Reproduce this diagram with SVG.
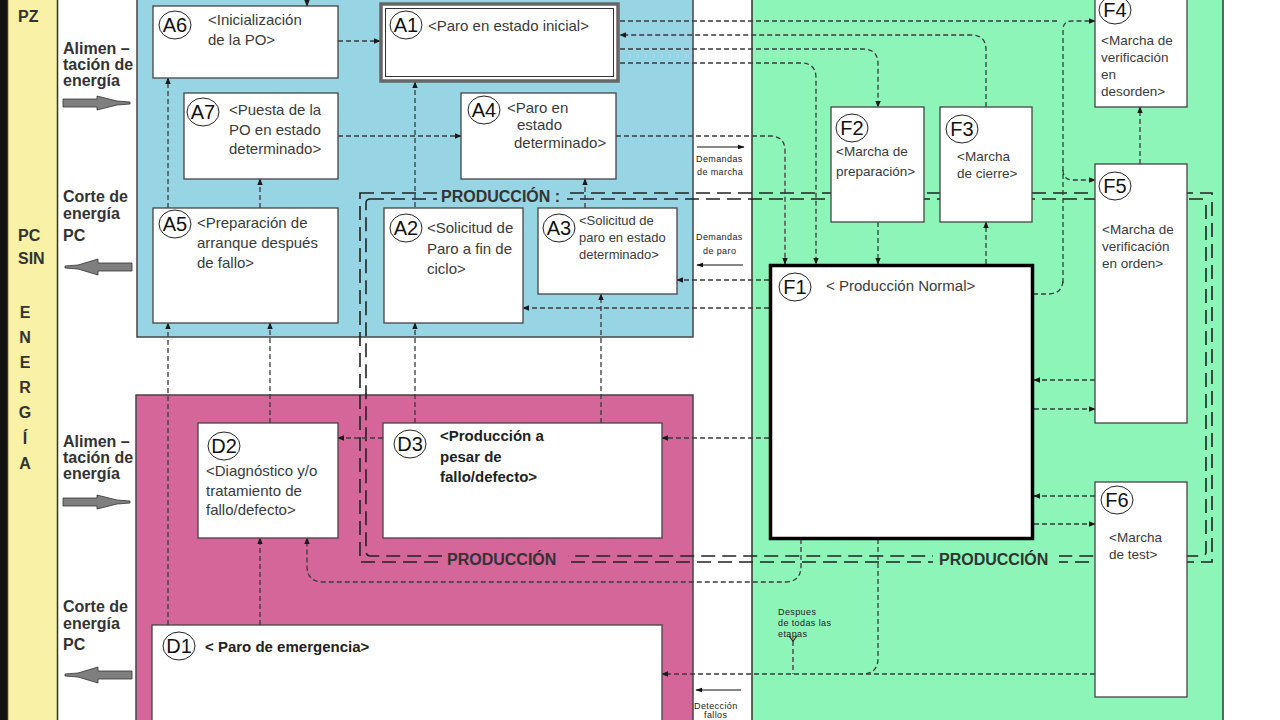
<svg xmlns="http://www.w3.org/2000/svg" width="1280" height="720" viewBox="0 0 1280 720">
<defs>
<marker id="ah" viewBox="0 0 10 10" refX="9" refY="5" markerWidth="7" markerHeight="7" markerUnits="userSpaceOnUse" orient="auto"><path d="M0,1 L10,5 L0,9 z" fill="#1a1a1a"/></marker>
<marker id="ahs" viewBox="0 0 10 10" refX="9" refY="5" markerWidth="7" markerHeight="7" markerUnits="userSpaceOnUse" orient="auto"><path d="M0,1.5 L10,5 L0,8.5 z" fill="#111"/></marker>
</defs>
<style>
.t{font-family:"Liberation Sans",Arial,sans-serif;font-size:15px;fill:#3a3a3a}
.s13{font-size:13px}
.s135{font-size:13.5px}
.b{font-weight:bold;fill:#222}
.side{font-family:"Liberation Sans",Arial,sans-serif;font-size:16px;font-weight:bold;fill:#333}
.tiny{font-family:"Liberation Sans",Arial,sans-serif;font-size:9px;fill:#222;letter-spacing:0.4px}
.prod{font-family:"Liberation Sans",Arial,sans-serif;font-size:16px;font-weight:bold;fill:#333}
.box{fill:#fff;stroke:#444;stroke-width:1.3}
.id ellipse{fill:none;stroke:#222;stroke-width:1}
.id text{font-family:"Liberation Sans",Arial,sans-serif;font-size:20px;fill:#111;text-anchor:middle}
.c{fill:none;stroke:#3a3a3a;stroke-width:1.3;stroke-dasharray:5 3;marker-end:url(#ah)}
.cn{fill:none;stroke:#3a3a3a;stroke-width:1.3;stroke-dasharray:5 3}
.pl{fill:none;stroke:#222;stroke-width:1.6;stroke-dasharray:14 7}
.blk{fill:#7f7f7f;stroke:#333;stroke-width:0.8}
</style>
<rect x="0" y="0" width="1280" height="720" fill="#fff"/>
<!-- left column -->
<rect x="0" y="0" width="7" height="720" fill="#111"/>
<rect x="7.5" y="-2" width="50" height="724" fill="#f8f1a6" stroke="#333" stroke-width="1.5"/>
<!-- regions -->
<rect x="137" y="-2" width="556" height="339" fill="#97d5e5" stroke="#444" stroke-width="1.5"/>
<rect x="752" y="-2" width="471" height="724" fill="#8ef5b9" stroke="#333" stroke-width="1.5"/>
<rect x="136" y="395" width="557" height="327" fill="#d5669a" stroke="#444" stroke-width="1.5"/>
<!-- PRODUCCION boundary -->
<rect x="360" y="193" width="852" height="369" class="pl"/>
<rect x="366" y="199" width="840" height="357" rx="4" class="pl"/>
<rect x="437" y="187" width="130" height="18" fill="#97d5e5"/>
<rect x="442" y="550" width="126" height="18" fill="#d5669a"/>
<rect x="933" y="550" width="126" height="18" fill="#8ef5b9"/>
<text class="prod" x="441" y="202">PRODUCCIÓN :</text>
<text class="prod" x="447" y="565">PRODUCCIÓN</text>
<text class="prod" x="939" y="565">PRODUCCIÓN</text>
<!-- side texts -->
<g id="side">
<text class="side" x="18" y="22" font-size="21">PZ</text>
<text class="side" x="63" y="54">Alimen –</text>
<text class="side" x="63" y="70">tación de</text>
<text class="side" x="63" y="86">energía</text>
<polygon class="blk" points="63,99 97,99 97,96 117,101 130,102 130,104 117,105 97,110 97,107 63,107"/>
<text class="side" x="63" y="202">Corte de</text>
<text class="side" x="63" y="219">energía</text>
<text class="side" x="63" y="241">PC</text>
<text class="side" x="18" y="241" font-size="17">PC</text>
<text class="side" x="18" y="264" font-size="17">SIN</text>
<polygon class="blk" points="132,263 98,263 98,259 78,265 65,266 65,268 78,269 98,275 98,271 132,271"/>
<g text-anchor="middle">
<text class="side" x="25" y="318" font-size="17">E</text>
<text class="side" x="25" y="343" font-size="17">N</text>
<text class="side" x="25" y="368" font-size="17">E</text>
<text class="side" x="25" y="393" font-size="17">R</text>
<text class="side" x="25" y="418" font-size="17">G</text>
<text class="side" x="25" y="444" font-size="17">Í</text>
<text class="side" x="25" y="469" font-size="17">A</text>
</g>
<text class="side" x="63" y="447">Alimen –</text>
<text class="side" x="63" y="463">tación de</text>
<text class="side" x="63" y="479">energía</text>
<polygon class="blk" points="63,498 97,498 97,495 117,500 130,501 130,503 117,504 97,509 97,506 63,506"/>
<text class="side" x="63" y="612">Corte de</text>
<text class="side" x="63" y="629">energía</text>
<text class="side" x="63" y="650">PC</text>
<polygon class="blk" points="132,671 98,671 98,667 78,673 65,674 65,676 78,677 98,683 98,679 132,679"/>
</g>
<!-- middle small labels -->
<g id="mid-labels">
<line x1="697" y1="147" x2="744" y2="147" stroke="#111" stroke-width="1.2" marker-end="url(#ahs)"/>
<text class="tiny" x="696" y="162">Demandas</text>
<text class="tiny" x="697" y="175">de marcha</text>
<text class="tiny" x="696" y="240">Demandas</text>
<text class="tiny" x="703" y="254">de paro</text>
<line x1="743" y1="265" x2="697" y2="265" stroke="#111" stroke-width="1.2" marker-end="url(#ahs)"/>
<line x1="741" y1="690" x2="696" y2="690" stroke="#111" stroke-width="1.2" marker-end="url(#ahs)"/>
<text class="tiny" x="694" y="709">Detección</text>
<text class="tiny" x="704" y="718">fallos</text>
<text class="tiny" x="778" y="615">Despues</text>
<text class="tiny" x="778" y="626">de todas las</text>
<text class="tiny" x="778" y="637">etapas</text>
</g>
<!-- connectors -->
<g id="connectors">
<path class="c" d="M307,-4 V6"/>
<path class="c" d="M338,41 H380"/>
<path class="c" d="M338,136 H461"/>
<path class="c" d="M616,136 H770 Q785,136 785,151 V264"/>
<path class="cn" d="M620,21 H1057"/>
<path class="c" d="M1063,283 V30 Q1063,21 1072,21 H1095"/>
<path class="c" d="M1063,170 Q1063,180 1073,180 H1095"/>
<path class="cn" d="M1033,294 H1048 Q1063,294 1063,279"/>
<path class="c" d="M986,107 V50 Q986,35 971,35 H620"/>
<path class="c" d="M620,49 H863 Q878,49 878,64 V107"/>
<path class="c" d="M620,63 H801 Q816,63 816,78 V264"/>
<path class="c" d="M878,222 V264"/>
<path class="c" d="M986,264 V222"/>
<path class="c" d="M1140,164 V107"/>
<path class="c" d="M1095,380 H1034"/>
<path class="c" d="M1034,409 H1095"/>
<path class="c" d="M1095,496 H1034"/>
<path class="c" d="M1034,524 H1095"/>
<path class="c" d="M769,438 H662"/>
<path class="c" d="M383,438 H338"/>
<path class="c" d="M769,280 H677"/>
<path class="c" d="M769,308 H523"/>
<path class="c" d="M585,208 V179"/>
<path class="c" d="M601,423 V294"/>
<path class="c" d="M415,423 V323"/>
<path class="c" d="M415,207 V82"/>
<path class="c" d="M168,208 V78"/>
<path class="c" d="M260,208 V179"/>
<path class="c" d="M270,423 V323"/>
<path class="c" d="M168,625 V323"/>
<path class="c" d="M260,625 V538"/>
<path class="c" d="M801,539 V566 Q801,582 785,582 H323 Q307,582 307,566 V538"/>
<path class="c" d="M1095,674 H662"/>
<path class="cn" d="M878,539 V658 Q878,674 862,674"/>
<path class="cn" d="M793,641 V674"/>
<path d="M789,636 L793,641 L797,636" fill="none" stroke="#222" stroke-width="1.2"/>
</g>
<!-- nodes -->
<g id="A6"><rect class="box" x="153" y="6" width="185" height="72"/><g class="id"><ellipse cx="175" cy="25" rx="16" ry="14"/><text x="175" y="32">A6</text></g><text class="t" x="208" y="25">&lt;Inicialización</text><text class="t" x="208" y="45">de la PO&gt;</text></g>
<g id="A1"><rect x="381" y="4" width="237" height="77" fill="#fff" stroke="#666" stroke-width="3.5"/><rect x="385.5" y="8.5" width="228" height="68" fill="#fff" stroke="#333" stroke-width="1"/><g class="id"><ellipse cx="406" cy="25" rx="16" ry="14"/><text x="406" y="32">A1</text></g><text class="t" x="428" y="31">&lt;Paro en estado inicial&gt;</text></g>
<g id="A7"><rect class="box" x="184" y="93" width="154" height="86"/><g class="id"><ellipse cx="203" cy="112" rx="16" ry="14"/><text x="203" y="119">A7</text></g><text class="t" x="229" y="115">&lt;Puesta de la</text><text class="t" x="229" y="135">PO en estado</text><text class="t" x="229" y="154">determinado&gt;</text></g>
<g id="A4"><rect class="box" x="461" y="93" width="155" height="86"/><g class="id"><ellipse cx="484" cy="110" rx="16" ry="14"/><text x="484" y="117">A4</text></g><text class="t" x="507" y="113">&lt;Paro en</text><text class="t" x="517" y="130">estado</text><text class="t" x="514" y="148">determinado&gt;</text></g>
<g id="A5"><rect class="box" x="153" y="208" width="185" height="115"/><g class="id"><ellipse cx="175" cy="224" rx="16" ry="14"/><text x="175" y="231">A5</text></g><text class="t" x="197" y="228">&lt;Preparación de</text><text class="t" x="197" y="248">arranque después</text><text class="t" x="197" y="268">de fallo&gt;</text></g>
<g id="A2"><rect class="box" x="384" y="208" width="139" height="115"/><g class="id"><ellipse cx="406" cy="228" rx="16" ry="14"/><text x="406" y="235">A2</text></g><text class="t" x="427" y="233">&lt;Solicitud de</text><text class="t" x="427" y="254">Paro a fin de</text><text class="t" x="427" y="274">ciclo&gt;</text></g>
<g id="A3"><rect class="box" x="538" y="208" width="139" height="86"/><g class="id"><ellipse cx="559" cy="228" rx="16" ry="14"/><text x="559" y="235">A3</text></g><text class="t s13" x="579" y="225">&lt;Solicitud de</text><text class="t s13" x="579" y="242">paro en estado</text><text class="t s13" x="579" y="259">determinado&gt;</text></g>
<g id="F4"><rect class="box" x="1095" y="-2" width="92" height="109"/><g class="id"><ellipse cx="1115" cy="10" rx="16" ry="14"/><text x="1115" y="17">F4</text></g><text class="t s135" x="1101" y="45">&lt;Marcha de</text><text class="t s135" x="1101" y="62">verificación</text><text class="t s135" x="1101" y="79">en</text><text class="t s135" x="1101" y="96">desorden&gt;</text></g>
<g id="F2"><rect class="box" x="831" y="107" width="93" height="115"/><g class="id"><ellipse cx="852" cy="128" rx="16" ry="14"/><text x="852" y="135">F2</text></g><text class="t s135" x="836" y="156">&lt;Marcha de</text><text class="t s135" x="836" y="176">preparación&gt;</text></g>
<g id="F3"><rect class="box" x="940" y="107" width="92" height="115"/><g class="id"><ellipse cx="962" cy="129" rx="16" ry="14"/><text x="962" y="136">F3</text></g><text class="t s135" x="957" y="161">&lt;Marcha</text><text class="t s135" x="957" y="178">de cierre&gt;</text></g>
<g id="F5"><rect class="box" x="1095" y="164" width="92" height="259"/><g class="id"><ellipse cx="1115" cy="186" rx="16" ry="14"/><text x="1115" y="193">F5</text></g><text class="t s135" x="1102" y="234">&lt;Marcha de</text><text class="t s135" x="1102" y="251">verificación</text><text class="t s135" x="1102" y="268">en orden&gt;</text></g>
<g id="F1"><rect x="770.5" y="265.5" width="262" height="273" fill="#fff" stroke="#000" stroke-width="3.5"/><g class="id"><ellipse cx="795" cy="287" rx="16" ry="14"/><text x="795" y="294">F1</text></g><text class="t" x="826" y="291">&lt; Producción Normal&gt;</text></g>
<g id="F6"><rect class="box" x="1095" y="482" width="92" height="215"/><g class="id"><ellipse cx="1117" cy="500" rx="16" ry="14"/><text x="1117" y="507">F6</text></g><text class="t s135" x="1109" y="542">&lt;Marcha</text><text class="t s135" x="1109" y="559">de test&gt;</text></g>
<g id="D2"><rect class="box" x="198" y="423" width="140" height="115"/><g class="id"><ellipse cx="224" cy="446" rx="16" ry="14"/><text x="224" y="453">D2</text></g><text class="t" x="206" y="476">&lt;Diagnóstico y/o</text><text class="t" x="206" y="496">tratamiento de</text><text class="t" x="206" y="515">fallo/defecto&gt;</text></g>
<g id="D3"><rect class="box" x="383" y="423" width="279" height="115"/><g class="id"><ellipse cx="410" cy="444" rx="16" ry="14"/><text x="410" y="451">D3</text></g><text class="t b" x="440" y="441">&lt;Producción a</text><text class="t b" x="440" y="462">pesar de</text><text class="t b" x="440" y="482">fallo/defecto&gt;</text></g>
<g id="D1"><rect class="box" x="152" y="625" width="510" height="100"/><g class="id"><ellipse cx="179" cy="646" rx="16" ry="14"/><text x="179" y="653">D1</text></g><text class="t b" x="205" y="652" font-size="18">&lt; Paro de emergencia&gt;</text></g>
</svg>
